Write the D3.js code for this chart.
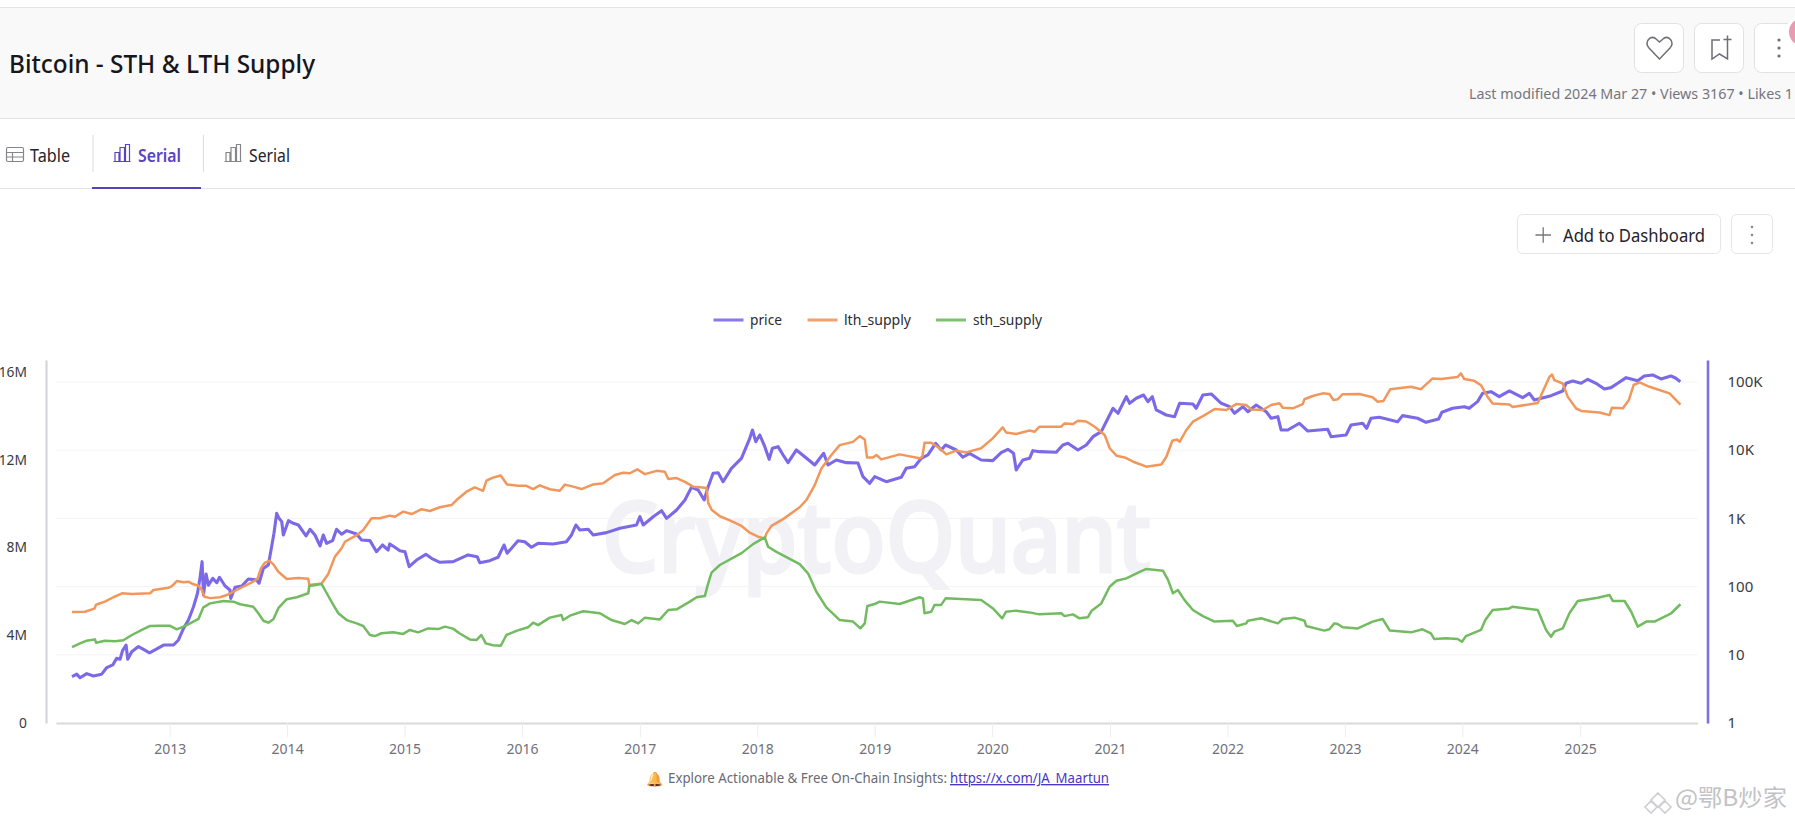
<!DOCTYPE html>
<html><head><meta charset="utf-8">
<script src="https://cdn.jsdelivr.net/npm/d3@7/dist/d3.min.js"></script>
<style>html,body{margin:0;padding:0;background:#fff;overflow:hidden}svg{display:block}text{font-family:"Noto Sans","Open Sans",sans-serif}</style>
</head><body><div id="c"></div>
<script>
const seriesNames=["price","lth_supply","sth_supply"];
const yearTicks=[2013,2014,2015,2016,2017,2018,2019,2020,2021,2022,2023,2024,2025];
const leftTicks=[0,4,8,12,16];
const rightTicks=[1,10,100,1000,10000,100000];
// [decimal year, millions of BTC]
const lthSupply=[[2012.171,5.06],[2012.281,5.07],[2012.361,5.21],[2012.375,5.39],[2012.45,5.53],[2012.522,5.73],[2012.596,5.91],[2012.679,5.88],[2012.834,5.91],[2012.862,6.06],[2012.99,6.16],[2013.019,6.24],[2013.061,6.47],[2013.117,6.41],[2013.16,6.44],[2013.202,6.32],[2013.245,6.26],[2013.274,6.06],[2013.296,5.75],[2013.344,5.69],[2013.429,5.73],[2013.486,5.83],[2013.599,6.14],[2013.699,6.41],[2013.747,6.56],[2013.778,7.05],[2013.812,7.31],[2013.849,7.39],[2013.883,7.23],[2013.925,6.89],[2013.997,6.56],[2014.095,6.61],[2014.18,6.57],[2014.189,6.29],[2014.294,6.36],[2014.35,6.79],[2014.407,7.58],[2014.464,7.96],[2014.492,8.26],[2014.592,8.56],[2014.648,8.79],[2014.719,9.33],[2014.79,9.33],[2014.875,9.45],[2014.918,9.40],[2014.988,9.63],[2015.06,9.52],[2015.145,9.74],[2015.215,9.66],[2015.3,9.83],[2015.4,9.93],[2015.442,10.16],[2015.527,10.54],[2015.598,10.74],[2015.668,10.58],[2015.697,11.04],[2015.753,11.18],[2015.819,11.28],[2015.872,10.87],[2015.966,10.81],[2016.037,10.81],[2016.094,10.66],[2016.15,10.83],[2016.236,10.65],[2016.321,10.58],[2016.363,10.86],[2016.434,10.77],[2016.505,10.66],[2016.604,10.87],[2016.689,10.92],[2016.788,11.3],[2016.859,11.4],[2016.916,11.38],[2016.978,11.56],[2017.043,11.34],[2017.143,11.49],[2017.213,11.45],[2017.242,11.12],[2017.313,11.16],[2017.384,10.99],[2017.454,10.77],[2017.511,10.74],[2017.568,10.71],[2017.582,10.03],[2017.611,9.72],[2017.681,9.42],[2017.766,9.23],[2017.866,8.98],[2017.936,8.67],[2018.007,8.49],[2018.064,8.41],[2018.078,8.64],[2018.121,8.98],[2018.22,9.29],[2018.361,9.83],[2018.418,10.16],[2018.489,10.84],[2018.546,11.6],[2018.631,12.21],[2018.702,12.66],[2018.815,12.81],[2018.872,13.07],[2018.915,12.92],[2018.934,12.1],[2018.985,12.1],[2019.014,12.21],[2019.056,12.01],[2019.212,12.24],[2019.382,12.06],[2019.405,12.13],[2019.424,12.77],[2019.481,12.77],[2019.552,12.52],[2019.609,12.24],[2019.694,12.41],[2019.779,12.33],[2019.906,12.52],[2020.004,12.97],[2020.089,13.47],[2020.118,13.24],[2020.203,13.17],[2020.316,13.33],[2020.359,13.27],[2020.401,13.5],[2020.586,13.5],[2020.614,13.65],[2020.685,13.62],[2020.728,13.77],[2020.799,13.74],[2020.87,13.5],[2020.955,13.12],[2020.998,12.52],[2021.055,12.18],[2021.125,12.1],[2021.21,11.88],[2021.31,11.68],[2021.437,11.78],[2021.48,12.13],[2021.531,12.86],[2021.57,12.92],[2021.593,12.81],[2021.65,13.35],[2021.706,13.73],[2021.806,14.03],[2021.891,14.31],[2021.99,14.26],[2022.075,14.53],[2022.16,14.49],[2022.202,14.29],[2022.3,14.26],[2022.372,14.49],[2022.443,14.57],[2022.471,14.36],[2022.556,14.34],[2022.641,14.53],[2022.655,14.75],[2022.726,14.9],[2022.811,15.02],[2022.868,14.99],[2022.902,14.72],[2022.938,14.75],[2022.981,14.98],[2023.123,14.99],[2023.236,14.84],[2023.279,14.64],[2023.327,14.67],[2023.387,15.21],[2023.563,15.32],[2023.648,15.21],[2023.747,15.70],[2023.818,15.67],[2023.96,15.77],[2023.988,15.93],[2024.016,15.67],[2024.101,15.59],[2024.158,15.39],[2024.214,14.86],[2024.257,14.56],[2024.399,14.51],[2024.427,14.4],[2024.64,14.58],[2024.682,15.09],[2024.739,15.77],[2024.762,15.88],[2024.781,15.62],[2024.852,15.47],[2024.895,14.86],[2024.966,14.33],[2025.009,14.22],[2025.165,14.15],[2025.25,14.03],[2025.27,14.36],[2025.364,14.34],[2025.415,14.72],[2025.455,15.4],[2025.506,15.52],[2025.591,15.32],[2025.761,15.02],[2025.854,14.51]];
const sthSupply=[[2012.171,3.46],[2012.239,3.63],[2012.296,3.75],[2012.366,3.81],[2012.375,3.66],[2012.45,3.75],[2012.536,3.72],[2012.607,3.77],[2012.679,4.01],[2012.764,4.24],[2012.834,4.42],[2012.919,4.43],[2013.004,4.43],[2013.061,4.27],[2013.117,4.39],[2013.174,4.54],[2013.245,4.74],[2013.287,5.27],[2013.344,5.45],[2013.457,5.56],[2013.543,5.53],[2013.6,5.41],[2013.712,5.3],[2013.755,5.0],[2013.798,4.66],[2013.84,4.57],[2013.883,4.73],[2013.925,5.23],[2013.997,5.64],[2014.082,5.73],[2014.18,5.91],[2014.189,6.24],[2014.294,6.33],[2014.322,6.06],[2014.393,5.38],[2014.436,5.0],[2014.507,4.69],[2014.592,4.54],[2014.648,4.42],[2014.705,4.01],[2014.747,3.96],[2014.804,4.09],[2014.903,4.13],[2014.988,4.06],[2015.045,4.24],[2015.116,4.13],[2015.2,4.31],[2015.286,4.28],[2015.343,4.39],[2015.413,4.3],[2015.47,4.08],[2015.555,3.81],[2015.612,3.78],[2015.654,4.01],[2015.691,3.63],[2015.753,3.54],[2015.819,3.52],[2015.867,4.01],[2015.952,4.2],[2016.051,4.36],[2016.094,4.57],[2016.136,4.46],[2016.236,4.8],[2016.335,4.92],[2016.349,4.69],[2016.406,4.89],[2016.519,5.09],[2016.661,5.0],[2016.76,4.69],[2016.873,4.51],[2016.93,4.69],[2016.986,4.54],[2017.043,4.8],[2017.171,4.72],[2017.242,5.15],[2017.313,5.18],[2017.426,5.53],[2017.483,5.73],[2017.554,5.79],[2017.582,6.36],[2017.611,6.85],[2017.681,7.2],[2017.866,7.74],[2017.964,8.15],[2018.064,8.46],[2018.092,8.03],[2018.163,7.8],[2018.361,7.24],[2018.432,6.82],[2018.503,5.98],[2018.588,5.27],[2018.702,4.69],[2018.815,4.62],[2018.878,4.31],[2018.915,4.54],[2018.937,5.33],[2019,5.42],[2019.042,5.53],[2019.212,5.42],[2019.382,5.73],[2019.41,5.68],[2019.424,5.0],[2019.481,5.07],[2019.509,5.38],[2019.566,5.38],[2019.603,5.68],[2019.779,5.64],[2019.906,5.6],[2020.004,5.23],[2020.085,4.77],[2020.118,5.07],[2020.203,5.12],[2020.316,5.04],[2020.401,4.95],[2020.586,5],[2020.614,4.87],[2020.685,4.95],[2020.742,4.77],[2020.813,4.82],[2020.842,5.1],[2020.926,5.45],[2020.997,6.21],[2021.055,6.48],[2021.139,6.59],[2021.253,6.89],[2021.31,7.02],[2021.451,6.94],[2021.494,6.52],[2021.536,5.91],[2021.578,6.06],[2021.635,5.6],[2021.706,5.15],[2021.791,4.87],[2021.891,4.62],[2022.046,4.66],[2022.08,4.42],[2022.16,4.54],[2022.174,4.66],[2022.287,4.77],[2022.429,4.54],[2022.471,4.74],[2022.571,4.8],[2022.656,4.66],[2022.67,4.42],[2022.825,4.21],[2022.868,4.27],[2022.91,4.54],[2022.938,4.51],[2022.981,4.36],[2023.11,4.31],[2023.236,4.62],[2023.321,4.74],[2023.383,4.21],[2023.563,4.13],[2023.661,4.27],[2023.732,4.08],[2023.76,3.83],[2023.86,3.86],[2023.96,3.83],[2023.997,3.7],[2024.03,3.96],[2024.158,4.24],[2024.195,4.69],[2024.257,5.15],[2024.399,5.22],[2024.427,5.3],[2024.64,5.15],[2024.711,4.24],[2024.753,3.93],[2024.781,4.16],[2024.852,4.31],[2024.909,5.0],[2024.98,5.56],[2025.15,5.71],[2025.25,5.83],[2025.278,5.56],[2025.378,5.56],[2025.435,5.07],[2025.491,4.39],[2025.563,4.62],[2025.633,4.62],[2025.775,5.0],[2025.854,5.41]];
// [decimal year, USD]
const btcPrice=[[2012.171,4.8],[2012.211,5.2],[2012.239,4.6],[2012.296,5.3],[2012.352,4.9],[2012.423,5.2],[2012.466,6.5],[2012.517,7.1],[2012.55,8.9],[2012.579,8.6],[2012.6,11.5],[2012.63,13.9],[2012.644,8.6],[2012.678,11.1],[2012.735,13.2],[2012.778,12],[2012.829,10.7],[2012.891,12.2],[2012.948,13.9],[2013.033,13.9],[2013.075,16.5],[2013.118,24.4],[2013.16,32.4],[2013.203,50.7],[2013.237,79.7],[2013.26,140],[2013.276,232],[2013.288,75],[2013.31,153],[2013.33,105],[2013.367,132],[2013.401,114],[2013.424,137],[2013.472,102],[2013.514,89],[2013.52,67],[2013.557,98],[2013.614,102],[2013.67,129],[2013.741,125],[2013.761,112],[2013.798,185],[2013.84,207],[2013.863,344],[2013.888,604],[2013.911,1186],[2013.931,1003],[2013.954,896],[2013.968,571],[2014.011,925],[2014.053,847],[2014.096,800],[2014.161,552],[2014.195,692],[2014.237,571],[2014.28,394],[2014.308,571],[2014.336,431],[2014.387,472],[2014.421,692],[2014.464,585],[2014.506,661],[2014.591,590],[2014.634,482],[2014.705,472],[2014.761,325],[2014.812,407],[2014.86,344],[2014.874,422],[2014.917,377],[2014.96,336],[2015.003,325],[2015.039,196],[2015.102,245],[2015.181,297],[2015.229,260],[2015.3,227],[2015.414,232],[2015.541,291],[2015.618,274],[2015.64,224],[2015.725,240],[2015.796,269],[2015.847,407],[2015.873,308],[2015.966,471],[2016.023,455],[2016.08,377],[2016.136,431],[2016.264,422],[2016.377,455],[2016.42,571],[2016.457,800],[2016.491,676],[2016.562,692],[2016.604,571],[2016.717,618],[2016.831,716],[2016.972,800],[2017.001,1059],[2017.029,800],[2017.114,1059],[2017.185,1297],[2017.228,1002],[2017.313,1327],[2017.384,1862],[2017.44,2858],[2017.497,2607],[2017.548,1862],[2017.582,2917],[2017.624,4581],[2017.667,4677],[2017.709,3451],[2017.78,5420],[2017.865,7603],[2017.936,14930],[2017.959,19770],[2017.987,13340],[2018.021,16710],[2018.064,11270],[2018.101,7350],[2018.129,10660],[2018.177,11270],[2018.22,8510],[2018.262,6560],[2018.333,10070],[2018.404,8030],[2018.489,6070],[2018.565,9000],[2018.602,6070],[2018.673,7180],[2018.758,6560],[2018.857,6500],[2018.9,4090],[2018.957,3270],[2019,4090],[2019.098,3450],[2019.226,4010],[2019.268,5420],[2019.339,5730],[2019.396,7600],[2019.453,8510],[2019.518,12620],[2019.566,10070],[2019.603,11920],[2019.694,10070],[2019.75,7870],[2019.807,9000],[2019.906,7180],[2020.005,7020],[2020.076,9190],[2020.133,10300],[2020.181,9000],[2020.204,5130],[2020.26,7180],[2020.317,7600],[2020.345,9840],[2020.402,9510],[2020.544,9310],[2020.6,11920],[2020.643,12620],[2020.728,10070],[2020.799,11900],[2020.856,15780],[2020.926,18700],[2020.983,29380],[2021.026,41100],[2021.068,34760],[2021.139,60950],[2021.167,48700],[2021.224,57700],[2021.286,64400],[2021.323,51500],[2021.36,60950],[2021.394,38900],[2021.479,32800],[2021.55,31000],[2021.593,48700],[2021.706,47500],[2021.734,41100],[2021.791,64400],[2021.862,66700],[2021.947,48700],[2022.018,43450],[2022.06,34760],[2022.131,43450],[2022.174,36700],[2022.245,46000],[2022.33,36700],[2022.372,29400],[2022.429,31000],[2022.457,19770],[2022.514,19770],[2022.613,24800],[2022.684,19100],[2022.854,20240],[2022.882,15780],[2023.01,16700],[2023.052,23400],[2023.151,24800],[2023.185,20900],[2023.222,29400],[2023.293,30400],[2023.449,26200],[2023.491,32100],[2023.619,29400],[2023.69,25600],[2023.798,28650],[2023.826,36000],[2023.917,41100],[2024.016,43450],[2024.058,41100],[2024.129,51500],[2024.172,68200],[2024.243,72100],[2024.313,60950],[2024.399,73800],[2024.512,58900],[2024.569,68200],[2024.611,54500],[2024.753,63000],[2024.852,73800],[2024.88,95700],[2024.937,103500],[2025.008,95700],[2025.065,109500],[2025.135,95700],[2025.206,78900],[2025.263,82600],[2025.32,95700],[2025.391,115700],[2025.49,104500],[2025.546,122500],[2025.617,126700],[2025.688,110700],[2025.773,122500],[2025.815,113300],[2025.853,101000]];

const colors={price:"#7b69e8",lth:"#f2975b",sth:"#72bb61"};
const toDate=y=>{const f=Math.floor(y),a=Date.UTC(f,0,1),b=Date.UTC(f+1,0,1);return new Date(a+(y-f)*(b-a));};
const svg=d3.select("#c").append("svg").attr("width",1795).attr("height",825);

// page chrome
svg.append("rect").attr("x",0).attr("y",7).attr("width",1795).attr("height",111).attr("fill","#f9f9fa");
[[7,"#e4e4e7"],[118,"#e4e4e7"],[188,"#e4e4e7"]].forEach(([y,c])=>svg.append("line").attr("x1",0).attr("x2",1795).attr("y1",y+.5).attr("y2",y+.5).attr("stroke",c).attr("stroke-width",1));
svg.append("text").attr("x",9).attr("y",73).attr("font-size",24.5).attr("font-weight",500).attr("fill","#16161c").attr("textLength",306).attr("lengthAdjust","spacingAndGlyphs").text("Bitcoin - STH & LTH Supply");
// tabs
const tab=(x,w,t,c,fw)=>svg.append("text").attr("x",x).attr("y",162).attr("font-size",17.5).attr("font-weight",fw).attr("fill",c).attr("textLength",w).attr("lengthAdjust","spacingAndGlyphs").text(t);
tab(30,40,"Table","#26262c",400);tab(138,43,"Serial","#5a43c4",600);tab(249,41,"Serial","#26262c",400);
svg.append("g").attr("fill","none").attr("stroke","#85858c").attr("stroke-width",1.2).html('<rect x="6.5" y="147.5" width="17" height="14" rx="1.5"/><path d="M6.5 152.5h17M6.5 157h17M12.5 152.5v9"/>');
const barIcon=(x,c)=>svg.append("path").attr("fill","none").attr("stroke",c).attr("stroke-width",1.2).attr("d",`M${x} 161.5h17M${x+1.5} 161.5v-9h4v9M${x+6.5} 161.5v-14h4.5v14M${x+12} 161.5v-17h4v17`);
barIcon(113.5,"#5a43c4");barIcon(224.5,"#85858c");
[93,203.5].forEach(x=>svg.append("line").attr("x1",x).attr("x2",x).attr("y1",135).attr("y2",172).attr("stroke","#dcdce0").attr("stroke-width",1));
svg.append("rect").attr("x",92).attr("y",187).attr("width",109).attr("height",2).attr("fill","#5a43b8");
// header buttons
[[1634.5,49],[1694.5,49],[1754.5,60]].forEach(([x,w])=>svg.append("rect").attr("x",x).attr("y",23.5).attr("width",w).attr("height",49).attr("rx",7).attr("fill","#fff").attr("stroke","#e2e2e6"));
svg.append("path").attr("fill","none").attr("stroke","#6e6e76").attr("stroke-width",1.5).attr("d","M1659.5 59 L1649 48 C1644 42 1650 35 1655.5 38.5 L1659.5 42 L1663.5 38.5 C1669 35 1675 42 1670 48 Z");
svg.append("path").attr("fill","none").attr("stroke","#6e6e76").attr("stroke-width",1.5).attr("d","M1727.5 40v19l-8-5-7.5 5V40h8M1723.5 39.5h8M1727.5 35.5v8");
[[1779,40],[1779,48],[1779,56]].forEach(([x,y])=>svg.append("circle").attr("cx",x).attr("cy",y).attr("r",1.6).attr("fill","#6e6e76"));
svg.append("circle").attr("cx",1803).attr("cy",32).attr("r",17).attr("fill","#fff");
svg.append("circle").attr("cx",1803).attr("cy",32).attr("r",14).attr("fill","#e89cb2");
svg.append("text").attr("x",1469).attr("y",99).attr("font-size",14.6).attr("fill","#75757d").attr("textLength",324).attr("lengthAdjust","spacingAndGlyphs").text("Last modified 2024 Mar 27 • Views 3167 • Likes 1");
// dashboard buttons
svg.append("rect").attr("x",1517.5).attr("y",214.5).attr("width",203).attr("height",39).attr("rx",5).attr("fill","#fff").attr("stroke","#e6e6ea");
svg.append("rect").attr("x",1731.5).attr("y",214.5).attr("width",41).attr("height",39).attr("rx",5).attr("fill","#fff").attr("stroke","#e6e6ea");
svg.append("path").attr("stroke","#75757d").attr("stroke-width",1.3).attr("d","M1535.5 235h15.5M1543.2 227.3v15.5");
svg.append("text").attr("x",1563).attr("y",242).attr("font-size",18).attr("fill","#24242a").attr("textLength",142).attr("lengthAdjust","spacingAndGlyphs").text("Add to Dashboard");
[227,235,243].forEach(y=>svg.append("circle").attr("cx",1752).attr("cy",y).attr("r",1.3).attr("fill","#8a8a90"));

// scales
const x=d3.scaleUtc().domain([toDate(2012.035),toDate(2026)]).range([56,1697.6]);
const yL=d3.scaleLinear().domain([0,16.54]).range([723,360]);
const yR=d3.scaleLog().domain([1,210000]).range([723,360]);

// watermark
svg.append("text").attr("x",602).attr("y",572).attr("font-size",98).attr("font-family","Roboto,sans-serif").attr("font-weight",500).attr("fill","#f2f2f6").attr("stroke","#f2f2f6").attr("stroke-width",3).attr("textLength",549).attr("lengthAdjust","spacingAndGlyphs").text("CryptoQuant");

// grid
svg.append("g").selectAll("line").data(rightTicks.slice(1)).join("line").attr("x1",56).attr("x2",1697.5).attr("y1",d=>yR(d)).attr("y2",d=>yR(d)).attr("stroke","#f3f3f5").attr("stroke-width",1);

// axes
const xAxis=svg.append("g").attr("transform","translate(0,723)").call(d3.axisBottom(x).tickValues(yearTicks.map(y=>new Date(Date.UTC(y,0,1)))).tickFormat(d3.utcFormat("%Y")).tickSize(14).tickSizeOuter(0).tickPadding(7));
xAxis.select(".domain").attr("stroke","#d9d9dd").attr("stroke-width",2);
xAxis.selectAll(".tick line").attr("stroke","#ededf0");
xAxis.selectAll("text").attr("fill","#70707a").attr("font-size",14).style("font-family",'"Noto Sans"');
const lAxis=svg.append("g").attr("transform","translate(46,0)").call(d3.axisLeft(yL).tickValues(leftTicks).tickFormat(d=>d?d+"M":"0").tickSize(0).tickSizeOuter(0).tickPadding(19));
lAxis.select(".domain").attr("stroke","#d2d2d8").attr("stroke-width",2);
lAxis.selectAll("text").attr("fill","#3a3a42").attr("font-size",13.8).style("font-family",'"Noto Sans"');
const rAxis=svg.append("g").attr("transform","translate(1707.5,0)").call(d3.axisRight(yR).tickValues(rightTicks).tickFormat(d=>d>=1000?(d/1000)+"K":d).tickSize(0).tickSizeOuter(0).tickPadding(20));
rAxis.select(".domain").attr("stroke","#7f70e6").attr("stroke-width",2.6);
rAxis.selectAll("text").attr("fill","#3a3a42").attr("font-size",15).style("font-family",'"Noto Sans"');

// lines
const draw=(data,y,c,w)=>svg.append("path").datum(data).attr("fill","none").attr("stroke",c).attr("stroke-width",w).attr("stroke-linejoin","round")
  .attr("d",d3.line().x(d=>x(toDate(d[0]))).y(d=>y(d[1])));
draw(btcPrice,yR,colors.price,3.1);
draw(lthSupply,yL,colors.lth,2.5);
draw(sthSupply,yL,colors.sth,2.5);

// legend
const legend=[[713.5,750,seriesNames[0],colors.price,32],[807.5,844,seriesNames[1],colors.lth,67],[936,973,seriesNames[2],colors.sth,69]];
legend.forEach(([lx,tx,t,c,w])=>{
  svg.append("line").attr("x1",lx).attr("x2",lx+30).attr("y1",320).attr("y2",320).attr("stroke",c).attr("stroke-width",3).attr("stroke-opacity",.9);
  svg.append("text").attr("x",tx).attr("y",325).attr("font-size",14.5).attr("fill","#2c2c34").attr("textLength",w).attr("lengthAdjust","spacingAndGlyphs").text(t);
});

// footer
svg.append("text").attr("x",646).attr("y",784).attr("font-size",14).attr("fill","#f0a060").style("filter","hue-rotate(-20deg) saturate(.9)").text("🔔");
svg.append("text").attr("x",668).attr("y",783).attr("font-size",13.5).attr("fill","#6a6a72").attr("textLength",279).attr("lengthAdjust","spacingAndGlyphs").text("Explore Actionable & Free On-Chain Insights:");
svg.append("text").attr("x",950).attr("y",783).attr("font-size",13.5).attr("fill","#4a35c8").attr("text-decoration","underline").attr("textLength",159).attr("lengthAdjust","spacingAndGlyphs").text("https://x.com/JA_Maartun");
// corner mark
svg.append("g").attr("fill","none").attr("stroke","#cfcfd3").attr("stroke-width",1.6).html('<path d="M1658 793l7 7-7 7-7-7zM1651 801l6 6-6 6-6-6zM1665 801l6 6-6 6-6-6z"/>');
svg.append("text").attr("x",1675).attr("y",806).attr("font-size",23).attr("fill","#c2c2c6").attr("textLength",112).attr("lengthAdjust","spacingAndGlyphs").style("font-family",'"Noto Sans CJK SC"').text("@鄂B炒家");
</script></body></html>
